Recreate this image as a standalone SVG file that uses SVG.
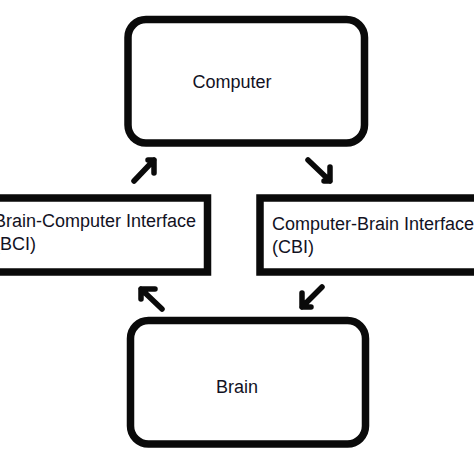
<svg xmlns="http://www.w3.org/2000/svg" width="474" height="474" viewBox="0 0 474 474">
<style>
.box{fill:#fff;stroke:#0a0a0a;stroke-width:7.5}
.lbl{font-family:"Liberation Sans",Arial,sans-serif;font-size:18px;fill:#12121f}
.arr{fill:none;stroke:#0a0a0a;stroke-width:5.5;stroke-linecap:round;stroke-linejoin:round}
</style>
<rect width="474" height="474" fill="#fff"/>
<g id="computer">
<rect class="box" x="128" y="19.5" width="236.5" height="123.5" rx="18"/>
<text class="lbl" x="232" y="88" text-anchor="middle">Computer</text>
</g>
<g id="bci">
<rect class="box" x="-10" y="198" width="217.5" height="74"/>
<text class="lbl" x="-6" y="227">Brain-Computer Interface</text>
<text class="lbl" x="-6" y="250">(BCI)</text>
</g>
<g id="cbi">
<rect class="box" x="260" y="198" width="230" height="74"/>
<text class="lbl" x="272" y="230">Computer-Brain Interface</text>
<text class="lbl" x="272" y="253">(CBI)</text>
</g>
<g id="brain">
<rect class="box" x="130.5" y="320.5" width="235" height="123.5" rx="18"/>
<text class="lbl" x="237" y="393" text-anchor="middle">Brain</text>
</g>
<g id="connectors">
<path class="arr" d="M134 181 L154 160 M148 160 L154 160 L154 173"/>
<path class="arr" d="M308 160 L330 181 M330 167 L330 181 L324 181"/>
<path class="arr" d="M162 309 L141 289 M155 289 L141 289 L141 299"/>
<path class="arr" d="M322 287 L302 307 M302 293 L302 307 L311 307"/>
</g>
</svg>
